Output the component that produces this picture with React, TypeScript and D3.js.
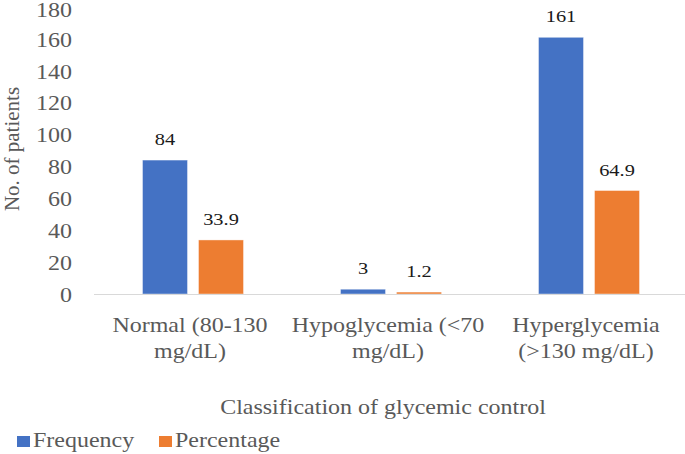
import * as d3 from 'd3';

const categories = ['Normal (80-130|mg/dL)', 'Hypoglycemia (<70|mg/dL)', 'Hyperglycemia|(>130 mg/dL)'];
const frequency = [84, 3, 161];
const percentage = [33.9, 1.2, 64.9];
const yTicks = [0, 20, 40, 60, 80, 100, 120, 140, 160, 180];
const seriesNames = ['Frequency', 'Percentage'];
const colors = ['#4472C4', '#ED7D31'];

const FONT = 'Liberation Serif';
const SX = 1.2; // the original text is a bit wide, so stretch it horizontally

const width = 685;
const height = 454;

// plot area
const x = d3.scaleBand().domain(categories).range([94, 688]);
const y = d3.scaleLinear().domain([0, 180]).range([294, 7]);
const barW = 45;
const gap = 11;

// wide text helper
const Label = ({ x, y, text, size, anchor, fill, dy = 0 }) => (
  <g transform={`translate(${x},${y}) scale(${SX},1)`}>
    <text dy={dy} textAnchor={anchor} fontFamily={FONT} fontSize={size} fill={fill}>
      {text}
    </text>
  </g>
);

const App = () => {
  const series = [frequency, percentage];

  return (
    <svg width={width} height={height} style={{ position: 'absolute', left: 0, top: 0 }} fontFamily={FONT}>
      {/* y tick labels */}
      {yTicks.map(t => (
        <Label key={t} x={72} y={Math.max(y(t) + 1, 10.5)} text={t} size={20} anchor="end" fill="#595959" dy="0.34em" />
      ))}

      {/* bars + value labels */}
      {series.map((vals, si) => {
        const off = si === 0 ? -gap / 2 - barW : gap / 2;
        return (
          <g key={si}>
            {vals.map((d, i) => (
              <rect
                key={i}
                x={x(categories[i]) + x.bandwidth() / 2 + off}
                y={y(d)}
                width={barW}
                height={y(0) - y(d)}
                fill={colors[si]}
                stroke="#ffffff"
                strokeOpacity={0.5}
                strokeWidth={0.8}
              />
            ))}
            {vals.map((d, i) => (
              <Label
                key={'l' + i}
                x={x(categories[i]) + x.bandwidth() / 2 + off + barW / 2}
                y={y(d) - 15}
                text={d}
                size={17}
                anchor="middle"
                fill="#1a1a1a"
              />
            ))}
          </g>
        );
      })}

      {/* x axis line */}
      <line x1={94} x2={685} y1={y(0) + 0.5} y2={y(0) + 0.5} stroke="#d9d9d9" strokeWidth={1.2} />

      {/* category labels */}
      {categories.map(c =>
        c.split('|').map((line, li) => (
          <Label
            key={c + li}
            x={x(c) + x.bandwidth() / 2 - 3}
            y={331.5 + li * 26}
            text={line}
            size={20}
            anchor="middle"
            fill="#595959"
          />
        ))
      )}

      {/* axis titles */}
      <Label x={383} y={414} text="Classification of glycemic control" size={20} anchor="middle" fill="#595959" />
      <text
        transform="translate(19,149) rotate(-90)"
        textAnchor="middle"
        fontFamily={FONT}
        fontSize={21}
        fill="#595959"
      >
        No. of patients
      </text>

      {/* legend */}
      {seriesNames.map((name, i) => {
        const lx = [17, 159][i];
        return (
          <g key={name}>
            <rect x={lx} y={436} width={13} height={11} fill={colors[i]} />
            <Label x={lx + 16} y={447} text={name} size={20} anchor="start" fill="#595959" />
          </g>
        );
      })}
    </svg>
  );
};

export default App;
